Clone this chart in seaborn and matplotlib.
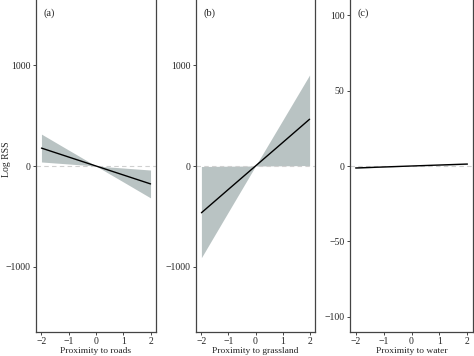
import matplotlib
matplotlib.use("Agg")
import matplotlib.pyplot as plt
import seaborn as sns
import pandas as pd

# ---- data ----
x_vals = [-2, -1, 0, 1, 2]

roads_est = [178, 89, 0, -89, -178]
roads_upper = [317, 158, 0, -20, -40]
roads_lower = [40, 20, 0, -158, -317]

grass_est = [-465, -232, 0, 232, 465]
grass_upper = [-5, -2, 0, 452, 905]
grass_lower = [-911, -455, 0, 2, 5]

water_est = [-1.3, -0.65, 0, 0.65, 1.3]
water_upper = [-1.0, -0.5, 0, 0.8, 1.6]
water_lower = [-1.6, -0.8, 0, 0.5, 1.0]

panel_labels = ["(a)", "(b)", "(c)"]
x_labels = ["Proximity to roads", "Proximity to grassland", "Proximity to water"]
y_ticks_big = [-1000, 0, 1000]
y_ticks_small = [-100, -50, 0, 50, 100]
x_ticks = [-2, -1, 0, 1, 2]

sns.set_style("ticks")
plt.rcParams["font.family"] = ["Liberation Serif", "DejaVu Serif"]
plt.rcParams["font.size"] = 7

fig = plt.figure(figsize=(4.74, 3.56), dpi=100)
positions = [
    [36 / 474, 24 / 356, 120 / 474, 332 / 356],
    [196 / 474, 24 / 356, 119 / 474, 332 / 356],
    [350 / 474, 24 / 356, 123 / 474, 332 / 356],
]
series = [
    (roads_est, roads_upper, roads_lower, (-1650, 1650), y_ticks_big),
    (grass_est, grass_upper, grass_lower, (-1650, 1650), y_ticks_big),
    (water_est, water_upper, water_lower, (-110, 110), y_ticks_small),
]

band_color = "#b9c3c3"
spine_color = "#444444"

for i, (pos, (est, up, lo, ylim, yt)) in enumerate(zip(positions, series)):
    ax = fig.add_axes(pos)
    df = pd.DataFrame({"x": x_vals, "est": est, "up": up, "lo": lo})
    ax.fill_between(df["x"], df["lo"], df["up"], color=band_color, linewidth=0, zorder=1)
    ax.axhline(0, color="#d0d0d0", linestyle=(0, (4, 3)), linewidth=0.8, zorder=2)
    sns.lineplot(data=df, x="x", y="est", ax=ax, color="black", linewidth=1.0, zorder=3)
    ax.set_xlim(-2.2, 2.2)
    ax.set_ylim(*ylim)
    ax.set_xticks(x_ticks)
    ax.set_xticklabels(["\u22122", "\u22121", "0", "1", "2"])
    ax.set_yticks(yt)
    ax.set_yticklabels([str(v).replace("-", "\u2212") for v in yt])
    ax.set_xlabel(x_labels[i], fontsize=6.8, labelpad=1)
    ax.set_ylabel("Log RSS" if i == 0 else "", fontsize=7)
    ax.spines["top"].set_visible(False)
    for s in ["left", "right", "bottom"]:
        ax.spines[s].set_color(spine_color)
        ax.spines[s].set_linewidth(0.9)
    ax.tick_params(axis="both", length=2.5, width=0.7, color=spine_color, pad=1.5, labelsize=7)
    ax.tick_params(axis="x", pad=1)
    ax.tick_params(axis="y", right=False)
    ax.text(0.06, 0.975, panel_labels[i], transform=ax.transAxes, ha="left", va="top", fontsize=7.5)

fig.axes[0].yaxis.set_label_coords(-0.21, 0.52)
fig.savefig("out.png", dpi=100)
